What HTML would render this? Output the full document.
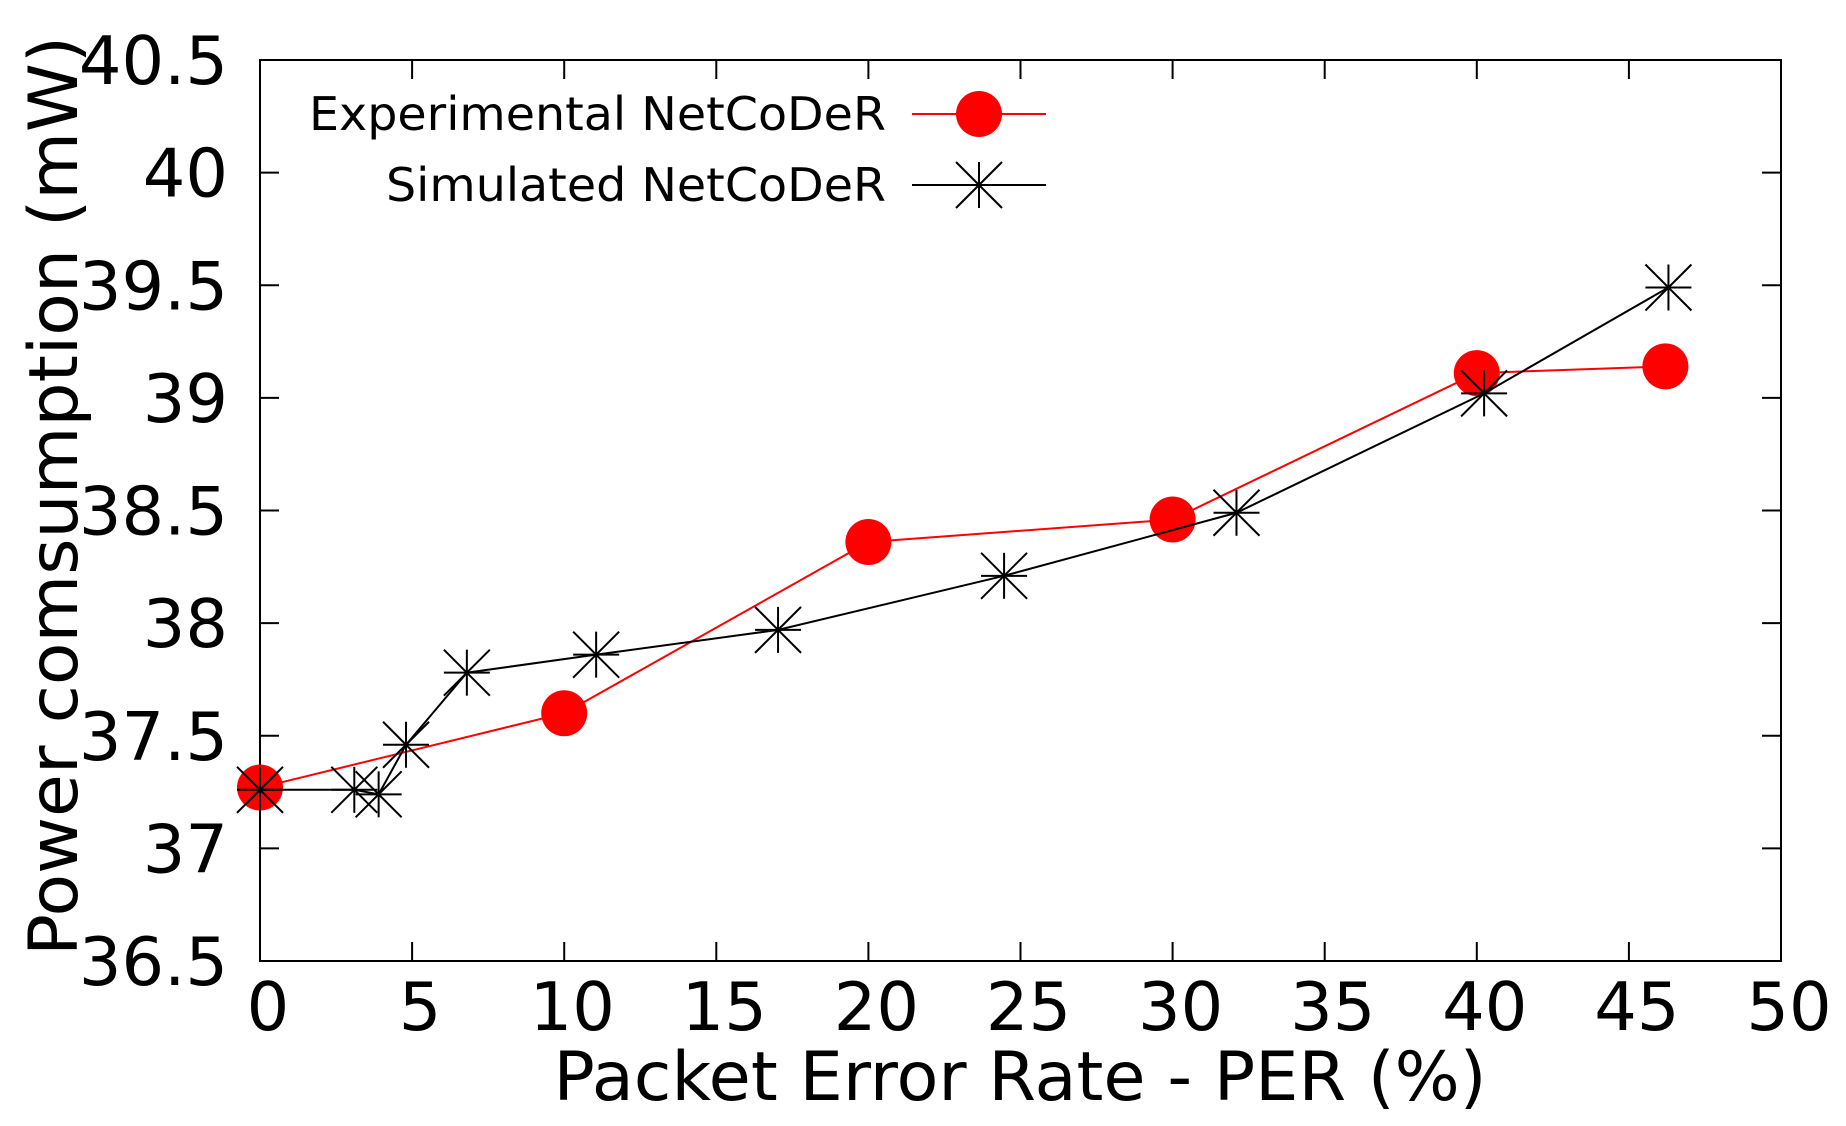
<!DOCTYPE html>
<html><head><meta charset="utf-8"><style>
html,body{margin:0;padding:0;background:#fff;}
svg{display:block;font-family:"DejaVu Sans","Liberation Sans",sans-serif;}
</style></head><body>
<svg id="chart" width="1846" height="1126" viewBox="0 0 1846 1126" xmlns="http://www.w3.org/2000/svg">
<g id="axes"></g>
<g id="series"></g>
<g id="legend"></g>
</svg>
<script>
const xTicks = [0,5,10,15,20,25,30,35,40,45,50];
const yTicks = [36.5,37,37.5,38,38.5,39,39.5,40,40.5];
const yTickLabels = ["36.5","37","37.5","38","38.5","39","39.5","40","40.5"];
const expX = [0,10,20,30,40,46.2];
const expY = [37.27,37.60,38.36,38.46,39.11,39.14];
const simX = [0,3.1,3.9,4.8,6.8,11.05,17.03,24.46,32.1,40.24,46.3];
const simY = [37.26,37.26,37.24,37.46,37.78,37.86,37.97,38.21,38.49,39.02,39.49];

const L=260,R=1781,T=60,B=961;
const xMin=0,xMax=50,yMin=36.5,yMax=40.5;
function sx(v){return L+(v-xMin)/(xMax-xMin)*(R-L);}
function sy(v){return B-(v-yMin)/(yMax-yMin)*(B-T);}
const NS="http://www.w3.org/2000/svg";
function mk(tag,attrs,parent){const e=document.createElementNS(NS,tag);for(const k in attrs)e.setAttribute(k,attrs[k]);parent.appendChild(e);return e;}
const axes=document.getElementById('axes'),series=document.getElementById('series'),legend=document.getElementById('legend');

let frame=mk('rect',{x:L,y:T,width:R-L,height:B-T,fill:'none',stroke:'#000','stroke-width':2},axes);



xTicks.forEach(v=>{
  const x=sx(v);
  let t1=mk('line',{x1:x,y1:B,x2:x,y2:B-19,stroke:'#000','stroke-width':2},axes);
  
  
  let t2=mk('line',{x1:x,y1:T,x2:x,y2:T+19,stroke:'#000','stroke-width':2},axes);
  
  
  let lb=mk('text',{x:x+8,y:1030,'font-size':67,'text-anchor':'middle',fill:'#000'},axes);
  lb.textContent=String(v);
  
  
});
yTicks.forEach((v,i)=>{
  const y=sy(v);
  let t1=mk('line',{x1:L,y1:y,x2:L+19,y2:y,stroke:'#000','stroke-width':2},axes);
  
  
  let t2=mk('line',{x1:R,y1:y,x2:R-19,y2:y,stroke:'#000','stroke-width':2},axes);
  
  
  let lb=mk('text',{x:228,y:y+24,'font-size':67,'text-anchor':'end',fill:'#000'},axes);
  lb.textContent=yTickLabels[i];
  
  
});
let xt=mk('text',{x:1020,y:1100,'font-size':68,'text-anchor':'middle',fill:'#000',textLength:933,lengthAdjust:'spacingAndGlyphs'},axes);
xt.textContent='Packet Error Rate - PER (%)';


let yt=mk('text',{x:0,y:0,'font-size':68,'text-anchor':'middle',fill:'#000',transform:'translate(77,496) rotate(-90)',textLength:920,lengthAdjust:'spacingAndGlyphs'},axes);
yt.textContent='Power comsumption (mW)';



function star(cx,cy,s,parent,name){
  const g=mk('g',{stroke:'#000','stroke-width':2},parent);
  
  
  mk('line',{x1:cx-s,y1:cy,x2:cx+s,y2:cy},g);
  mk('line',{x1:cx,y1:cy-s,x2:cx,y2:cy+s},g);
  mk('line',{x1:cx-s,y1:cy-s,x2:cx+s,y2:cy+s},g);
  mk('line',{x1:cx-s,y1:cy+s,x2:cx+s,y2:cy-s},g);
}

let ep=mk('polyline',{points:expX.map((v,i)=>sx(v)+','+sy(expY[i])).join(' '),fill:'none',stroke:'#f00','stroke-width':2},series);


expX.forEach((v,i)=>{
  let c=mk('circle',{cx:sx(v),cy:sy(expY[i]),r:23,fill:'#f00'},series);
  
  
});
let sp=mk('polyline',{points:simX.map((v,i)=>sx(v)+','+sy(simY[i])).join(' '),fill:'none',stroke:'#000','stroke-width':2},series);


simX.forEach((v,i)=>star(sx(v),sy(simY[i]),23,series,'simulated-point'));

let l1=mk('text',{x:886,y:130,'font-size':46,'text-anchor':'end',fill:'#000',textLength:577,lengthAdjust:'spacingAndGlyphs'},legend);
l1.textContent='Experimental NetCoDeR';


let ll1=mk('line',{x1:912,y1:114,x2:1046,y2:114,stroke:'#f00','stroke-width':2},legend);


let lc=mk('circle',{cx:979,cy:114,r:23,fill:'#f00'},legend);


let l2=mk('text',{x:886,y:201,'font-size':46,'text-anchor':'end',fill:'#000',textLength:500,lengthAdjust:'spacingAndGlyphs'},legend);
l2.textContent='Simulated NetCoDeR';


let ll2=mk('line',{x1:912,y1:185,x2:1046,y2:185,stroke:'#000','stroke-width':2},legend);


star(979,185,23,legend,'legend-simulated-marker');
</script>
</body></html>
